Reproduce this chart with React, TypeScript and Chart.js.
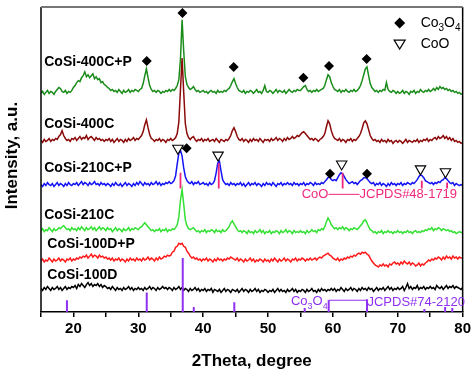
import { useEffect, useRef } from "react";
import { Chart, registerables } from "chart.js";

Chart.register(...registerables);

// ---- sampling grid of the patterns (2θ, degrees) ----
const START_ANGLE = 15;
const STEP_ANGLE = 0.25;
const X_MIN = 15;
const X_MAX = 80;
const xTickLabels = ["20", "30", "40", "50", "60", "70", "80"];

// ---- intensities (a.u., relative to each pattern's stacking offset), 2θ = 15 … 80 step 0.25 ----
const cosi400CP = [
  1,3,0,2,4,1,3,2,0,3,5,7,6,3,2,4,1,3,2,4,
  7,9,12,14,13,17,19,23,18,20,17,19,21,16,18,15,16,12,13,10,
  9,7,6,4,5,3,4,2,5,3,1,4,2,3,5,2,4,3,5,4,
  3,5,6,11,19,26,17,9,5,3,4,2,4,3,1,3,2,4,3,5,
  3,5,4,6,9,15,36,76,44,18,10,7,5,6,8,5,3,4,2,3,
  4,2,3,1,3,4,2,3,1,4,2,3,2,4,3,5,6,9,13,16,
  11,7,4,3,2,4,1,3,2,4,3,1,3,5,2,3,1,4,9,3,
  2,4,3,1,3,5,2,4,3,2,4,1,3,5,3,2,4,3,5,4,
  4,6,8,9,5,3,4,2,4,3,5,3,4,5,6,9,15,20,18,12,
  8,5,4,3,5,2,4,3,5,3,2,4,3,5,3,4,6,9,14,20,
  26,28,19,11,7,5,3,4,2,4,3,5,4,12,5,3,2,4,3,1,
  3,1,2,4,1,3,2,0,3,2,4,1,3,2,5,3,2,4,3,5,
  3,4,6,4,7,5,8,6,7,5,6,4,5,3,4,2,3,1,2,0,
  1,
];
const cosi400C = [
  3,1,4,2,3,5,2,4,3,5,4,7,9,13,8,5,3,4,2,5,
  4,6,3,5,7,4,6,5,8,4,6,7,5,3,6,4,5,3,4,2,
  4,3,5,2,4,1,3,5,2,4,3,1,4,2,5,3,4,6,3,5,
  4,6,8,12,19,24,16,9,5,4,2,4,3,5,2,4,3,1,4,3,
  5,3,4,6,10,22,55,87,52,20,10,6,4,6,7,4,2,4,3,5,
  2,4,3,5,2,3,4,2,5,3,1,4,3,2,4,3,5,8,13,16,
  12,7,4,3,5,2,4,3,1,4,2,5,3,4,2,5,3,1,4,3,
  4,2,5,3,4,6,3,5,4,2,5,3,6,4,5,7,5,6,8,7,
  9,11,12,10,8,6,4,5,3,5,4,2,4,5,7,10,17,23,20,13,
  8,5,4,3,5,2,4,3,1,4,3,5,2,4,3,5,7,10,15,21,
  23,20,14,8,5,3,4,2,3,1,4,2,3,1,4,2,3,0,2,3,
  1,3,2,0,2,4,1,3,2,1,3,2,4,1,3,2,4,3,5,2,
  4,3,5,6,4,7,5,6,8,5,7,4,6,3,5,2,3,1,2,0,
  1,
];
const cosi210CP = [
  3,1,4,2,5,3,2,4,1,3,5,2,4,3,1,4,2,5,3,2,
  4,3,5,2,4,6,3,5,4,2,5,3,4,6,3,4,2,5,3,4,
  2,4,3,1,4,2,5,3,2,4,1,3,5,2,4,3,1,4,2,5,
  3,6,4,2,5,3,4,2,5,3,4,6,3,5,2,4,3,5,4,6,
  4,5,7,12,24,35,38,32,20,11,7,5,4,6,3,5,4,6,3,4,
  5,3,4,2,5,3,4,7,15,25,27,17,8,5,3,4,2,5,3,4,
  2,4,3,5,2,4,1,3,5,2,4,3,5,2,4,3,1,4,2,5,
  3,4,2,5,3,1,4,3,5,2,4,3,5,3,4,2,5,3,4,2,
  4,3,5,2,4,3,5,4,2,5,3,4,3,5,4,6,8,10,11,8,
  7,8,7,10,13,15,14,11,8,6,4,5,6,4,5,3,5,7,8,10,
  10,9,7,5,4,5,2,4,3,5,2,4,3,1,4,2,5,3,4,2,
  4,3,5,2,4,3,5,4,3,5,4,6,8,11,13,12,10,7,6,5,
  4,5,3,5,4,6,5,7,8,10,9,7,5,4,5,2,4,3,2,3,
  2,
];
const cosi210C = [
  3,5,2,4,3,6,4,2,5,3,4,6,5,7,8,6,4,5,3,6,
  4,5,3,6,4,7,5,3,6,4,5,7,4,6,3,5,7,4,6,5,
  3,6,4,5,2,4,6,3,5,4,2,5,3,4,6,3,5,4,6,5,
  4,6,7,9,11,9,7,5,3,4,2,4,3,5,2,4,3,5,2,4,
  3,5,4,6,9,17,34,45,30,14,8,5,4,5,6,4,2,3,1,3,
  2,4,1,3,2,4,3,1,4,2,3,1,4,2,3,5,7,11,13,10,
  7,4,2,3,1,3,2,0,3,1,2,0,3,1,2,4,1,3,0,2,
  1,3,0,2,1,3,2,0,3,1,2,4,1,3,2,0,3,1,2,1,
  3,1,2,0,3,1,2,4,2,3,1,4,3,5,4,7,12,16,13,9,
  7,5,6,4,6,5,7,4,6,5,3,5,4,6,5,4,6,8,10,13,
  14,11,7,4,3,1,2,0,2,1,3,0,2,1,3,1,2,0,2,1,
  3,1,2,0,2,1,3,1,2,0,2,3,1,2,1,3,2,4,3,5,
  4,6,3,5,4,6,5,3,5,4,3,4,2,3,1,2,0,1,2,1,
  1,
];
const cosi100DP = [
  2,4,1,3,2,5,3,1,4,2,3,5,2,4,3,1,4,3,5,2,
  4,3,5,4,6,5,7,6,8,5,7,9,6,8,7,5,8,6,7,5,
  6,4,5,3,5,2,4,3,5,2,4,3,1,4,2,5,3,4,2,5,
  3,4,2,5,3,4,6,3,5,4,2,5,3,6,4,5,7,6,8,7,
  8,11,12,16,17,20,19,20,17,16,12,10,7,5,6,4,5,3,4,2,
  4,3,5,2,4,3,1,4,2,5,3,4,2,4,3,5,4,6,5,4,
  3,5,2,4,3,1,4,2,3,5,2,4,1,3,2,4,3,1,4,2,
  3,1,4,2,5,3,1,4,2,3,5,2,4,3,1,4,3,5,2,4,
  3,5,4,2,4,3,5,3,4,5,3,5,6,5,7,8,9,10,8,7,
  5,4,3,5,2,4,3,5,4,6,5,7,6,8,7,9,10,9,11,10,
  11,9,8,5,2,0,-2,-3,-4,-2,-3,-1,-3,-2,-4,-1,-2,0,1,-1,
  0,-2,1,-1,2,0,-1,1,-2,0,-1,-3,-2,0,-3,-1,-2,0,1,3,
  2,4,3,5,4,6,5,3,6,4,7,5,6,4,7,5,6,4,6,5,
  5,
];
const cosi100D = [
  5,3,6,4,7,5,3,6,4,5,7,4,6,3,5,7,4,6,5,7,
  6,8,5,9,7,10,8,6,9,11,8,10,7,9,8,10,7,9,6,8,
  7,5,6,4,7,5,3,6,4,5,3,6,4,5,7,4,6,3,5,4,
  6,4,5,3,6,4,5,7,4,6,5,3,6,4,5,7,5,6,4,6,
  5,3,6,4,5,7,4,6,3,5,4,2,5,3,4,6,3,5,2,4,
  3,5,2,4,3,5,1,4,3,2,4,1,3,5,2,4,3,1,4,3,
  2,4,1,3,5,2,4,3,1,4,2,3,5,2,4,1,3,2,4,3,
  1,3,2,4,1,3,5,2,4,2,3,1,4,2,3,5,2,4,1,3,
  2,4,3,1,4,2,3,5,2,3,1,4,2,5,3,4,2,4,3,5,
  3,5,2,4,3,6,4,2,5,3,4,6,3,5,4,2,5,3,6,4,
  5,3,6,4,5,2,4,6,3,5,4,6,3,5,7,4,6,3,5,4,
  6,4,5,7,3,6,10,5,7,4,6,5,8,4,6,5,7,4,6,5,
  7,5,6,4,8,6,5,7,4,6,8,5,7,6,8,5,7,6,5,4,
  6,
];

// stacking offsets of each pattern
const seriesNames = ["CoSi-400C+P", "CoSi-400C", "CoSi-210C+P", "CoSi-210C", "CoSi-100D+P", "CoSi-100D"];
const seriesValues = [cosi400CP, cosi400C, cosi210CP, cosi210C, cosi100DP, cosi100D];
const seriesOffsets = [222, 172, 127, 80, 50, 19];

// reference cards (stick patterns)
const co3o4RefAngles = [19.0, 31.3, 36.85, 38.55, 44.8, 55.65, 59.35, 65.25, 74.1, 77.3, 78.4];
const co3o4RefTops = [12, 20, 55, 5, 10, 4, 12, 13, 3, 5, 4];
const co3o4RefBase = 0;
const cooRefAngles = [36.5, 42.4, 61.5, 73.7, 77.6];
const cooRefTops = [142, 152, 142, 134, 132];
const cooRefBase = 126;

// peak identification markers
const co3o4MarkAngles = [31.3, 36.8, 44.7, 55.45, 59.4, 65.2, 37.45, 59.55, 65.25];
const co3o4MarkLevels = [256, 305, 250, 239, 251, 258, 167, 141, 141];
const cooMarkAngles = [36.1, 42.3, 61.35, 73.5, 77.35];
const cooMarkLevels = [167, 160, 151, 146, 143];

// ---- styles / layout ----
const FONT = "Arial, 'Liberation Sans', Helvetica, sans-serif";
const seriesColors = ["#1a8c1a", "#8b0a0a", "#1414f5", "#33e033", "#ff1a1a", "#000000"];
const seriesLabelPos = [
  { angle: 15.5, level: 255 },
  { angle: 15.5, level: 192 },
  { angle: 15.5, level: 147 },
  { angle: 15.5, level: 99 },
  { angle: 15.97, level: 69 },
  { angle: 15.97, level: 38 },
];
const PINK = "#f0287d";
const PURPLE = "#9030f0";
const cooCard = { name: "CoO", card: "JCPDS#48-1719", from: 59.3, to: 64.1, level: 120 };
const co3o4Card = { card: "JCPDS#74-2120", from: 59.35, to: 65.25, lineLevel: 12, level: 10 };

function sticks(angles: number[], tops: number[], base: number | number[]) {
  const pts: { x: number; y: number | null }[] = [];
  angles.forEach((a, i) => {
    const b = Array.isArray(base) ? base[i] : base;
    pts.push({ x: a, y: b }, { x: a, y: tops[i] }, { x: a, y: null });
  });
  return pts;
}

type Part = [string, boolean];
const CO3O4_PARTS: Part[] = [["Co", false], ["3", true], ["O", false], ["4", true]];

function drawChem(ctx: CanvasRenderingContext2D, parts: Part[], x: number, y: number, align: "left" | "right", size: number, color: string) {
  const mainFont = `${size}px ${FONT}`;
  const subFont = `${Math.round(size * 0.72)}px ${FONT}`;
  let total = 0;
  const widths = parts.map(([t, sub]) => {
    ctx.font = sub ? subFont : mainFont;
    const w = ctx.measureText(t).width;
    total += w;
    return w;
  });
  let cx = align === "left" ? x : x - total;
  ctx.fillStyle = color;
  ctx.textAlign = "left";
  ctx.textBaseline = "middle";
  parts.forEach(([t, sub], i) => {
    ctx.font = sub ? subFont : mainFont;
    ctx.fillText(t, cx, sub ? y + size * 0.38 : y);
    cx += widths[i];
  });
  return total;
}

const overlayPlugin = {
  id: "overlay",
  afterDatasetsDraw(chart: any) {
    const { ctx, chartArea } = chart;
    const { left, right, top, bottom } = chartArea;
    const xs = chart.scales.x;
    const ys = chart.scales.y;
    ctx.save();

    // frame
    ctx.strokeStyle = "#000";
    ctx.lineWidth = 1.5;
    ctx.beginPath();
    ctx.moveTo(left, bottom);
    ctx.lineTo(left, top);
    ctx.moveTo(right, top);
    ctx.lineTo(right, bottom);
    ctx.stroke();
    ctx.strokeStyle = "#777";
    ctx.lineWidth = 2;
    ctx.beginPath();
    ctx.moveTo(left, top);
    ctx.lineTo(right, top);
    ctx.stroke();

    // series labels
    ctx.fillStyle = "#000";
    ctx.font = `bold 14px ${FONT}`;
    ctx.textAlign = "left";
    ctx.textBaseline = "middle";
    seriesNames.forEach((n, i) => {
      const p = seriesLabelPos[i];
      ctx.fillText(n, xs.getPixelForValue(p.angle), ys.getPixelForValue(p.level));
    });

    // CoO card label
    {
      const x1 = xs.getPixelForValue(cooCard.from);
      const x2 = xs.getPixelForValue(cooCard.to);
      const yy = ys.getPixelForValue(cooCard.level);
      ctx.font = `13px ${FONT}`;
      ctx.fillStyle = PINK;
      ctx.textBaseline = "middle";
      ctx.textAlign = "right";
      ctx.fillText(cooCard.name, x1, yy);
      ctx.textAlign = "left";
      ctx.fillText(cooCard.card, x2, yy);
      ctx.strokeStyle = PINK;
      ctx.lineWidth = 1;
      ctx.beginPath();
      ctx.moveTo(x1, yy);
      ctx.lineTo(x2, yy);
      ctx.stroke();
    }
    // Co3O4 card label
    {
      const x1 = xs.getPixelForValue(co3o4Card.from);
      const x2 = xs.getPixelForValue(co3o4Card.to);
      const yl = ys.getPixelForValue(co3o4Card.lineLevel);
      const yy = ys.getPixelForValue(co3o4Card.level);
      drawChem(ctx, CO3O4_PARTS, x1 - 1, yy - 1, "right", 13, PURPLE);
      ctx.font = `13px ${FONT}`;
      ctx.fillStyle = PURPLE;
      ctx.textAlign = "left";
      ctx.textBaseline = "middle";
      ctx.fillText(co3o4Card.card, x2 + 0.5, yy);
      ctx.strokeStyle = PURPLE;
      ctx.lineWidth = 1;
      ctx.beginPath();
      ctx.moveTo(x1, yl);
      ctx.lineTo(x2, yl);
      ctx.stroke();
    }

    // legend (top right)
    {
      const mx = right - 63;
      const tx = right - 42;
      const y1 = top + 16;
      const y2 = top + 37;
      ctx.fillStyle = "#000";
      ctx.beginPath();
      ctx.moveTo(mx, y1 - 5.5);
      ctx.lineTo(mx + 5.5, y1);
      ctx.lineTo(mx, y1 + 5.5);
      ctx.lineTo(mx - 5.5, y1);
      ctx.closePath();
      ctx.fill();
      drawChem(ctx, CO3O4_PARTS, tx, y1, "left", 14, "#000");
      ctx.strokeStyle = "#000";
      ctx.lineWidth = 1.2;
      ctx.beginPath();
      ctx.moveTo(mx - 5.5, y2 - 4);
      ctx.lineTo(mx + 5.5, y2 - 4);
      ctx.lineTo(mx, y2 + 5);
      ctx.closePath();
      ctx.stroke();
      ctx.fillStyle = "#000";
      ctx.font = `14px ${FONT}`;
      ctx.textAlign = "left";
      ctx.textBaseline = "middle";
      ctx.fillText("CoO", tx, y2);
    }

    // axis titles
    ctx.fillStyle = "#000";
    ctx.font = `bold 17px ${FONT}`;
    ctx.textAlign = "center";
    ctx.textBaseline = "alphabetic";
    ctx.fillText("2Theta, degree", (left + right) / 2, 366);
    ctx.save();
    ctx.translate(17, (top + bottom) / 2 - 4);
    ctx.rotate(-Math.PI / 2);
    ctx.textBaseline = "alphabetic";
    ctx.fillText("Intensity, a.u.", 0, 0);
    ctx.restore();

    ctx.restore();
  },
};

export default function App() {
  const ref = useRef<HTMLCanvasElement>(null);
  useEffect(() => {
    document.body.style.margin = "0";
    const canvas = ref.current;
    if (!canvas) return;

    const traceSets = seriesValues.map((vals, i) => ({
      type: "line" as const,
      label: seriesNames[i],
      data: vals.map((v, k) => ({ x: START_ANGLE + STEP_ANGLE * k, y: v + seriesOffsets[i] })),
      borderColor: seriesColors[i],
      borderWidth: 1.5,
      pointRadius: 0,
      tension: 0,
      fill: false,
    }));

    const chart = new Chart(canvas, {
      type: "line",
      data: {
        datasets: [
          {
            type: "scatter" as const,
            label: "Co3O4 marks",
            data: co3o4MarkAngles.map((a, i) => ({ x: a, y: co3o4MarkLevels[i] })),
            pointStyle: "rectRot",
            pointRadius: 5,
            backgroundColor: "#000",
            borderColor: "#000",
            borderWidth: 0,
            showLine: false,
          },
          {
            type: "scatter" as const,
            label: "CoO marks",
            data: cooMarkAngles.map((a, i) => ({ x: a, y: cooMarkLevels[i] })),
            pointStyle: "triangle",
            pointRotation: 180,
            pointRadius: 6,
            backgroundColor: "rgba(255,255,255,1)",
            borderColor: "#000",
            borderWidth: 1.1,
            showLine: false,
          },
          {
            type: "line" as const,
            label: "CoO card",
            data: sticks(cooRefAngles, cooRefTops, cooRefBase),
            borderColor: PINK,
            borderWidth: 1.8,
            pointRadius: 0,
            spanGaps: false,
          },
          {
            type: "line" as const,
            label: "Co3O4 card",
            data: sticks(co3o4RefAngles, co3o4RefTops, co3o4RefBase),
            borderColor: PURPLE,
            borderWidth: 2,
            pointRadius: 0,
            spanGaps: false,
          },
          ...traceSets,
        ] as any,
      },
      options: {
        animation: false,
        responsive: false,
        devicePixelRatio: 1,
        layout: { padding: { left: 41, right: 9, top: 1, bottom: 0 } },
        plugins: { legend: { display: false }, tooltip: { enabled: false } },
        events: [],
        scales: {
          x: {
            type: "linear",
            min: X_MIN,
            max: X_MAX,
            ticks: {
              stepSize: 5,
              autoSkip: false,
              maxRotation: 0,
              color: "#000",
              padding: 3,
              font: { family: FONT, size: 15, weight: "bold" },
              callback: (v: any) => {
                const s = String(v);
                return xTickLabels.includes(s) ? s : "";
              },
            },
            grid: { drawOnChartArea: false, drawTicks: true, tickLength: 5, color: "#000", lineWidth: 1.5 },
            border: { display: true, color: "#000", width: 1.5 },
            afterFit: (s: any) => {
              s.height = 58;
            },
          },
          y: { display: false, min: 0, max: 311 },
        },
      } as any,
      plugins: [overlayPlugin],
    });
    return () => chart.destroy();
  }, []);
  return (
    <div style={{ width: 474, height: 370 }}>
      <canvas ref={ref} width={474} height={370} style={{ display: "block" }} />
    </div>
  );
}
